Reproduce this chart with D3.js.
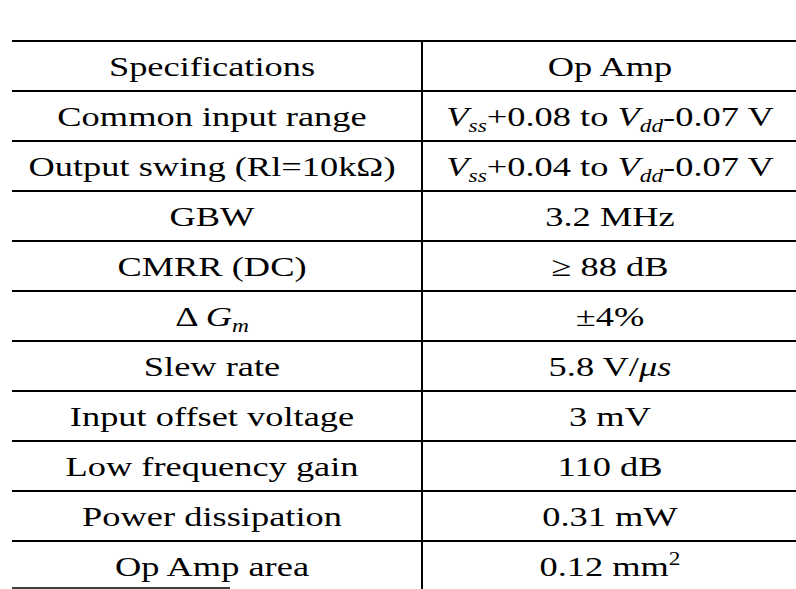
<!DOCTYPE html>
<html><head><meta charset="utf-8">
<script src="https://d3js.org/d3.v7.min.js"></script>
<style>body{margin:0;background:#fff}</style></head>
<body><svg id="c" width="796" height="589"></svg>
<script>
const specs = ["Specifications","Common input range","Output swing (Rl=10kΩ)","GBW","CMRR (DC)","Δ G_m","Slew rate","Input offset voltage","Low frequency gain","Power dissipation","Op Amp area"];
const values = ["Op Amp","V_ss+0.08 to V_dd-0.07 V","V_ss+0.04 to V_dd-0.07 V","3.2 MHz","≥ 88 dB","±4%","5.8 V/μs","3 mV","110 dB","0.31 mW","0.12 mm^2"];
const svg = d3.select("#c");
const y = d3.scaleBand().domain(d3.range(specs.length)).range([41, 591]);
const x = d3.scalePoint().domain([0,1]).range([212, 610]);
const font = "Liberation Serif, DejaVu Serif, serif";
svg.selectAll("line.h").data(d3.range(specs.length)).enter().append("line")
  .attr("x1",12).attr("x2",796).attr("y1",d=>y(d)).attr("y2",d=>y(d))
  .attr("stroke","#000").attr("stroke-width",2);
svg.append("line").attr("x1",12).attr("x2",230).attr("y1",588).attr("y2",588).attr("stroke","#000").attr("stroke-width",1.5);
svg.append("line").attr("x1",422).attr("x2",422).attr("y1",41).attr("y2",589).attr("stroke","#000").attr("stroke-width",2);
function rich(t, s){
  const re = /([A-Z])_([a-z]+)|\^(\d)|(μs)/g; let last=0, m;
  const parts=[];
  while((m=re.exec(s))){ if(m.index>last) parts.push({t:s.slice(last,m.index)});
    if(m[1]) { parts.push({t:m[1],it:true}); parts.push({t:m[2],it:true,sub:true}); }
    else if(m[3]) parts.push({t:m[3],sup:true});
    else parts.push({t:"μ",it:true},{t:"s",it:true});
    last=re.lastIndex; }
  if(last<s.length) parts.push({t:s.slice(last)});
  let prev=0;
  parts.forEach(p=>{ const sh = p.sub?6:p.sup?-11:0;
    t.append("tspan").text(p.t).attr("dy",sh-prev)
     .attr("font-style",p.it?"italic":null).attr("font-size",(p.sub||p.sup)?18:null); prev=sh; });
}
[specs, values].forEach((col,ci)=>{
  const g = svg.append("g").attr("transform",`translate(${x(ci)},0) scale(1.3,1)`);
  g.selectAll(null).data(col).enter().append("text")
    .attr("x",0).attr("y",(d,i)=>y(i)+y.bandwidth()/2+10)
    .attr("text-anchor","middle").attr("font-family",font).attr("font-size",28)
    .each(function(d){ rich(d3.select(this), d); });
});
</script></body></html>
